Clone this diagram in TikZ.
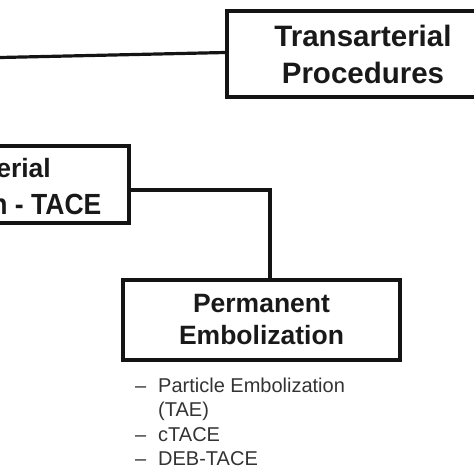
\documentclass[tikz,border=0pt]{standalone}
\usepackage{fontspec}
\setmainfont{Liberation Sans}
\begin{document}
\begin{tikzpicture}[x=1pt,y=-1pt,
  box/.style={draw=black!92, line width=3.2pt, rectangle, inner sep=0pt},
  conn/.style={draw=black!92, line width=3.2pt},
  title/.style={font=\bfseries\fontsize{29.5}{37}\selectfont, text=black!90, align=center, inner sep=0pt},
  cut/.style={text=black!90, anchor=base east, inner sep=0pt},
  sub/.style={font=\bfseries\fontsize{26.5}{32}\selectfont, text=black!90, align=center, inner sep=0pt},
  bul/.style={font=\fontsize{20}{24}\selectfont, text=black!80, anchor=base west, inner sep=0pt}]
\useasboundingbox (0,0) rectangle (474,474);
\clip (0,0) rectangle (474,474);
% boxes
\node[box, minimum width=272pt, minimum height=86pt] (tp) at (363,54) {};
\node[title] (tpt) at (363,54) {Transarterial\\Procedures};
\node[box, minimum width=329pt, minimum height=77pt] (tace) at (-35.5,184.5) {};
\node[cut, font=\bfseries\fontsize{26.5}{30}\selectfont] (tace1) at (51,177.5) {erial};
\node[cut, font=\bfseries\fontsize{26.5}{30}\selectfont] (tace2) at (101.5,214) {\scalebox{1}[1.1]{n - TACE}};
\node[box, minimum width=277pt, minimum height=80pt] (pe) at (261.5,320) {};
\node[sub] (pet) at (261.5,320) {Permanent\\Embolization};
% connectors
\coordinate (lft) at (0,57.5);
\draw[conn] (lft) -- ([yshift=1.5pt]tp.west);
\draw[conn] ([yshift=-5.5pt]tace.east) -| ([xshift=8.5pt]pe.north);
% bullet list
\node[bul] (d1) at (135,392) {–};
\node[bul] (b1) at (158,392) {Particle Embolization};
\node[bul] (b1b) at (158,416.5) {(TAE)};
\node[bul] (d2) at (135,441) {–};
\node[bul] (b2) at (158,441) {cTACE};
\node[bul] (d3) at (135,465.5) {–};
\node[bul] (b3) at (158,465.5) {DEB-TACE};
\end{tikzpicture}
\end{document}
